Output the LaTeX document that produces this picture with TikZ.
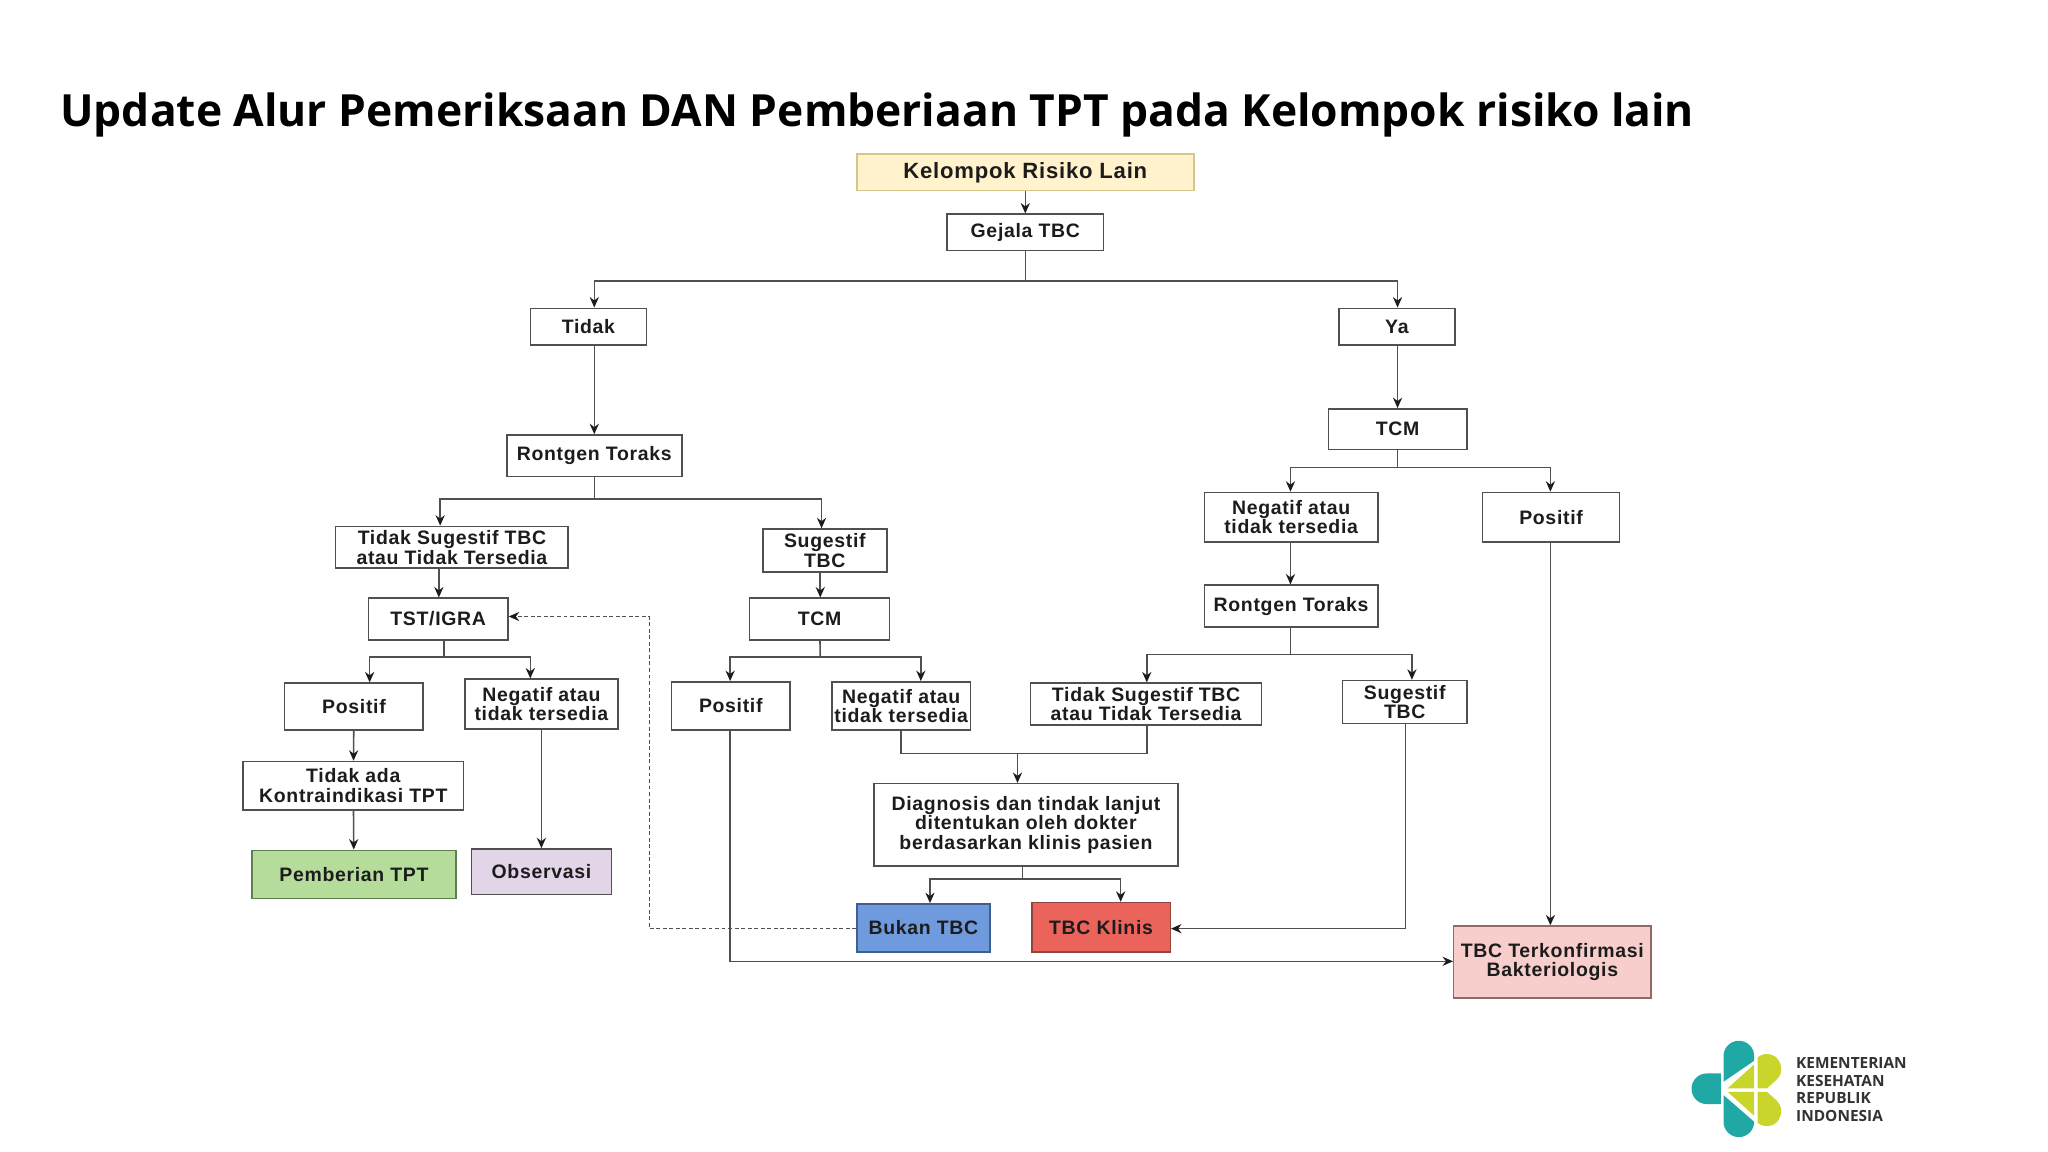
\documentclass[tikz,border=0pt]{standalone}
\usepackage{fontspec}
\setmainfont{Liberation Sans}[LetterSpace=3.5]
\newfontfamily\titlefont{Open Sans}
\newfontfamily\logofont{Open Sans}
\usetikzlibrary{arrows.meta}
\definecolor{edge}{HTML}{505050}
\definecolor{ink}{HTML}{1C1C1C}
\definecolor{teal}{HTML}{1FA8A4}
\definecolor{lime}{HTML}{C9D52A}
\definecolor{kfill}{HTML}{FFF2CC}
\definecolor{kline}{HTML}{D6C68A}
\definecolor{hfill}{HTML}{B6DC9C}
\definecolor{hline}{HTML}{5E7F52}
\definecolor{ufill}{HTML}{E1D5E7}
\definecolor{bfill}{HTML}{6F9BDE}
\definecolor{bline}{HTML}{3F5F8F}
\definecolor{mfill}{HTML}{EA645C}
\definecolor{mline}{HTML}{8F4540}
\definecolor{pfill}{HTML}{F8CECC}
\definecolor{pline}{HTML}{8F6A68}
\tikzset{
  box/.style={draw=edge,line width=1.1pt,fill=white,inner sep=0pt,align=center,text=ink,
    font=\fontsize{14.9}{15}\selectfont\bfseries},
  kuning/.style={draw=kline,fill=kfill,font=\fontsize{16.9}{15}\selectfont\bfseries},
  hijau/.style={draw=hline,fill=hfill},
  ungu/.style={fill=ufill},
  biru/.style={fill=bfill,draw=bline},
  merah/.style={fill=mfill,draw=mline},
  merahmuda/.style={fill=pfill,draw=pline},
  link/.style={draw=edge,line width=1.2pt},
  arr/.style={link,-{Stealth[length=8pt,width=7pt,color=ink]}},
  dotline/.style={link,densely dashed,line width=.8pt},
  dotarr/.style={dotline,-{Stealth[length=8pt,width=7pt,color=ink]}},
}
\newcommand\bx[7]{%
  \pgfmathsetmacro\bw{#4-#2}\pgfmathsetmacro\bh{#5-#3}%
  \pgfmathsetmacro\cxx{(#2+#4)/2}\pgfmathsetmacro\cyy{(#3+#5)/2}%
  \node[box,#6,minimum width=\bw pt,minimum height=\bh pt] (#1) at (\cxx,\cyy) {#7};}
\begin{document}
\begin{tikzpicture}[x=1pt,y=-1pt]
\useasboundingbox (0,0) rectangle (1568,882);
\node[anchor=base west,inner sep=0pt,font=\fontsize{33.95}{36}\selectfont\titlefont\bfseries,text=black] (title) at (46,97)
  {Update Alur Pemeriksaan DAN Pemberiaan TPT pada Kelompok risiko lain};
\bx{kel}{656}{118}{914}{146}{kuning}{Kelompok Risiko Lain}
\bx{gej}{725}{164}{845}{192}{}{Gejala TBC}
\bx{tdk}{406}{236}{495}{264}{}{Tidak}
\bx{ya}{1025}{236}{1114}{264}{}{Ya}
\bx{ronl}{388}{333}{522}{365}{}{Rontgen Toraks}
\bx{tcmr}{1017}{313}{1123}{344}{}{TCM}
\bx{negr}{922}{377}{1055}{415}{}{Negatif atau\\tidak tersedia}
\bx{posr}{1135}{377}{1240}{415}{}{Positif}
\bx{ronr}{922}{448}{1055}{480}{}{Rontgen Toraks}
\bx{tsl}{257}{403}{435}{435}{}{Tidak Sugestif TBC\\atau Tidak Tersedia}
\bx{sugl}{584}{405}{679}{438}{}{Sugestif\\TBC}
\bx{tst}{282}{458}{389}{490}{}{TST/IGRA}
\bx{tcmm}{574}{458}{681}{490}{}{TCM}
\bx{posl}{218}{523}{324}{559}{}{Positif}
\bx{negl}{356}{520}{473}{558}{}{Negatif atau\\tidak tersedia}
\bx{kontra}{186}{583}{355}{620}{}{Tidak ada\\Kontraindikasi TPT}
\bx{beri}{193}{651}{349}{688}{hijau}{Pemberian TPT}
\bx{obs}{361}{650}{468}{685}{ungu}{Observasi}
\bx{posm}{514}{522}{605}{559}{}{Positif}
\bx{negm}{637}{522}{743}{559}{}{Negatif atau\\tidak tersedia}
\bx{tsr}{789}{523}{966}{555}{}{Tidak Sugestif TBC\\atau Tidak Tersedia}
\bx{sugr}{1028}{521}{1123}{554}{}{Sugestif\\TBC}
\bx{diag}{669}{600}{902}{663}{}{Diagnosis dan tindak lanjut\\ditentukan oleh dokter\\berdasarkan klinis pasien}
\bx{buk}{656}{692}{758}{729}{biru}{Bukan TBC}
\bx{kli}{790}{691}{896}{729}{merah}{TBC Klinis}
\bx{kon}{1113}{709}{1264}{764}{merahmuda}{TBC Terkonfirmasi\\Bakteriologis}
% junctions
\coordinate (j1) at (785,215);
\coordinate (j2) at (455,382);
\coordinate (j3) at (340,503);
\coordinate (j4) at (628,503);
\coordinate (j5) at (1070,358);
\coordinate (j6) at (988,501);
\coordinate (j7) at (779,577);
\coordinate (j8) at (783,673);
\coordinate (c1) at (559,736);
\coordinate (c2) at (497,711);
\coordinate (c3) at (497,472);
\coordinate (c4) at (1076,711);
% connectors
\draw[arr] (kel) -- (gej);
\draw[link] (gej) -- (j1);
\draw[arr] (j1) -| (455,0 |- tdk.north);
\draw[arr] (j1) -| (1070,0 |- ya.north);
\draw[arr] (455,0 |- tdk.south) -- (455,0 |- ronl.north);
\draw[arr] (1070,0 |- ya.south) -- (1070,0 |- tcmr.north);
\draw[link] (ronl) -- (j2);
\draw[arr] (j2) -| (337,0 |- tsl.north);
\draw[arr] (j2) -| (629,0 |- sugl.north);
\draw[arr] (336,0 |- tsl.south) -- (336,0 |- tst.north);
\draw[arr] (628,0 |- sugl.south) -- (628,0 |- tcmm.north);
\draw[link] (340,0 |- tst.south) -- (j3);
\draw[arr] (j3) -| (283,0 |- posl.north);
\draw[arr] (j3) -| (406,0 |- negl.north);
\draw[arr] (posl) -- (kontra);
\draw[arr] (kontra) -- (beri);
\draw[arr] (negl) -- (obs);
\draw[link] (tcmm) -- (j4);
\draw[arr] (j4) -| (559,0 |- posm.north);
\draw[arr] (j4) -| (705,0 |- negm.north);
\draw[arr] (559,0 |- posm.south) -- (c1) -- (c1 -| kon.west);
\draw[link] (690,0 |- negm.south) |- (j7);
\draw[link] (878,0 |- tsr.south) |- (j7);
\draw[arr] (j7) -- (779,0 |- diag.north);
\draw[link] (j8 |- diag.south) -- (j8);
\draw[arr] (j8) -| (712,0 |- buk.north);
\draw[arr] (j8) -| (858,0 |- kli.north);
\draw[dotarr] (c2 -| buk.west) -- (c2) -- (c3) -- (c3 -| tst.east);
\draw[link] (tcmr) -- (j5);
\draw[arr] (j5) -| (988,0 |- negr.north);
\draw[arr] (j5) -| (1187,0 |- posr.north);
\draw[arr] (988,0 |- negr.south) -- (988,0 |- ronr.north);
\draw[link] (988,0 |- ronr.south) -- (j6);
\draw[arr] (j6) -| (878,0 |- tsr.north);
\draw[arr] (j6) -| (1081,0 |- sugr.north);
\draw[arr] (1076,0 |- sugr.south) -- (c4) -- (c4 -| kli.east);
\draw[arr] (1187,0 |- posr.south) -- (1187,0 |- kon.north);
% logo
\begin{scope}[shift={(1263.4,781)},x=0.2552pt,y=-0.2552pt]
\fill[teal] (220,185) -- (220,108) arc[start angle=180,end angle=0,x radius=46,y radius=-46] -- (312,122) -- cycle;
\fill[teal] (212,160) -- (212,252) -- (170,252) arc[start angle=90,end angle=270,radius=46] -- cycle;
\fill[teal] (220,225) -- (312,305) arc[start angle=0,end angle=180,x radius=46,y radius=46] -- cycle;
\fill[lime] (312,133) -- (312,205) -- (232,205) -- cycle;
\fill[lime] (232,215) -- (312,215) -- (312,287) -- cycle;
\fill[lime] (322,205) -- (322,112) .. controls (345,92) and (392,100) .. (393,148) .. controls (393,172) and (375,182) .. (350,205) -- cycle;
\fill[lime] (322,215) -- (350,215) .. controls (375,238) and (393,248) .. (393,272) .. controls (392,320) and (345,328) .. (322,308) -- cycle;
\end{scope}
\node[anchor=north west,inner sep=0pt,align=left,text=black!80,font=\fontsize{11.8}{13.4}\selectfont\logofont\bfseries] (logotext) at (1375,809.5)
  {KEMENTERIAN\\KESEHATAN\\REPUBLIK\\INDONESIA};
\end{tikzpicture}
\end{document}
